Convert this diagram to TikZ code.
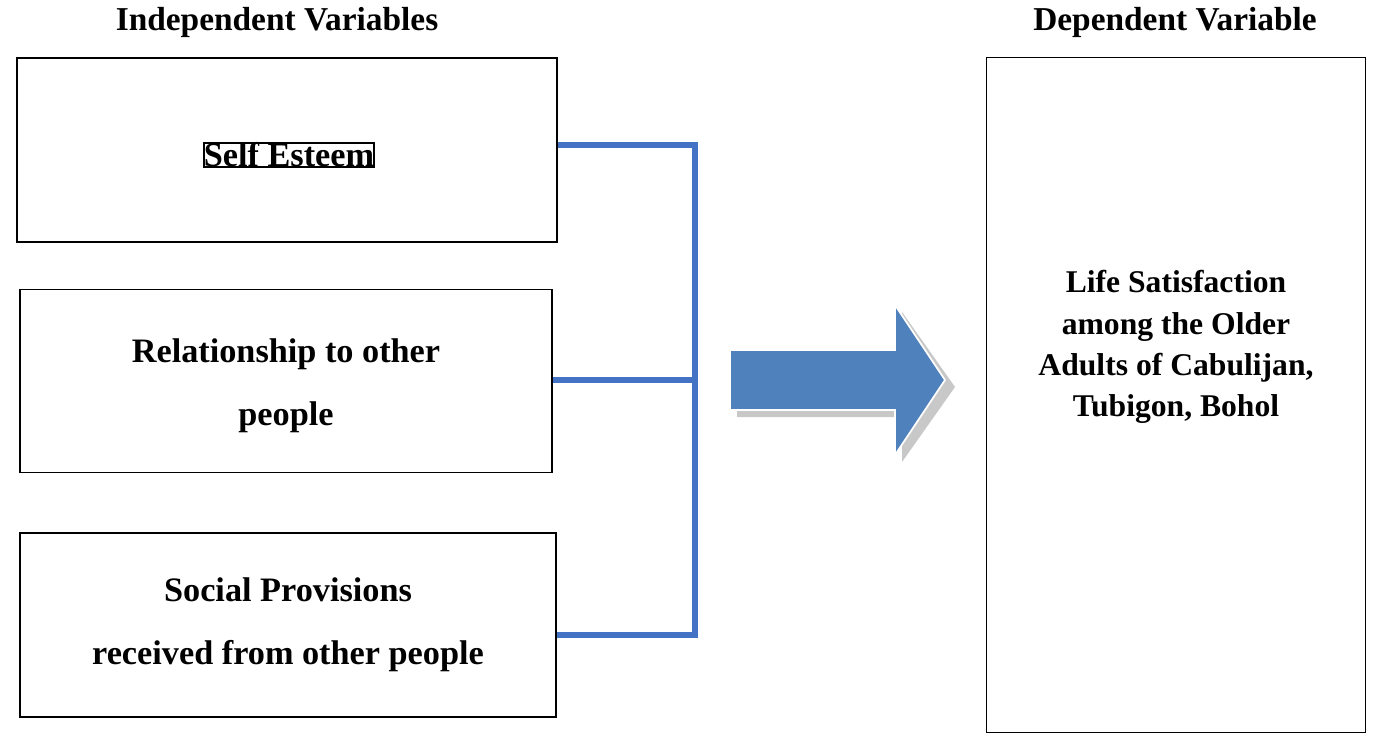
\documentclass[tikz,border=0pt]{standalone}
\usepackage{fontspec}
\setmainfont{Liberation Serif}
\definecolor{linkblue}{RGB}{68, 114, 196}
\definecolor{arrowblue}{RGB}{79, 129, 189}
\definecolor{arrowshade}{RGB}{200, 200, 200}
\tikzset{
  varbox/.style={draw=black, line width=1pt, inner sep=0pt, align=center, font=\bfseries\fontsize{19.5}{36}\selectfont},
  header/.style={font=\bfseries\fontsize{19}{21}\selectfont},
  link/.style={draw=linkblue, line width=3.5pt}
}
\begin{document}
\begin{tikzpicture}[x=0.02cm, y=-0.02cm]
			\useasboundingbox (0, 0) rectangle (1373, 740);
			\node[header] (indhead) at (277, 22) {Independent Variables};
			\node[header] (dephead) at (1175, 22) {Dependent Variable};
			\node[varbox, minimum width=10.8cm, minimum height=3.68cm] (esteem) at (287, 150) {};
			\node[varbox] (esteemtext) at (289, 155) {Self Esteem};
			\node[varbox, minimum width=10.64cm, minimum height=3.66cm] (relation) at (286, 381) {};
			\node[varbox, draw=none] (relationtext) at (286, 386) {Relationship to other\\people};
			\node[varbox, minimum width=10.72cm, minimum height=3.68cm] (provision) at (288, 625) {Social Provisions\\received from other people};
			\node[varbox, minimum width=7.58cm, minimum height=13.5cm] (satisfaction) at (1176, 395) {};
			\node[varbox, draw=none, font=\bfseries\fontsize{18}{23.5}\selectfont] (satisfactiontext) at (1176, 347) {Life Satisfaction\\among the Older\\Adults of Cabulijan,\\Tubigon, Bohol};
			% bracket joining the three variables
			\coordinate (bracktop) at (695, 145);
			\coordinate (brackmid) at (695, 380);
			\coordinate (brackbot) at (695, 635);
			\draw[link] (esteem.east |- bracktop) -- (bracktop) -- (brackbot) -- (provision.east |- brackbot);
			\draw[link] (relation.east |- brackmid) -- (brackmid);
			% block arrow
			\fill[arrowshade] (737, 357) -- (902, 357) -- (902, 312) -- (955, 387) -- (902, 462) -- (902, 417) -- (737, 417) -- cycle;
			\filldraw[draw=white, line width=1pt, fill=arrowblue] (730, 350) -- (895, 350) -- (895, 305) -- (945, 380) -- (895, 455) -- (895, 410) -- (730, 410) -- cycle;
		\end{tikzpicture}
\end{document}
